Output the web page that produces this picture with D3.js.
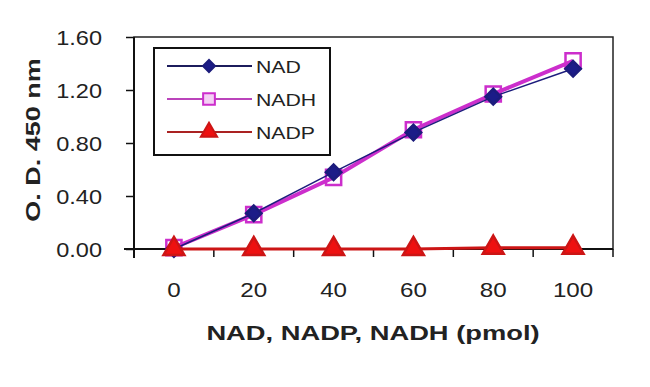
<!DOCTYPE html>
<html>
<head>
<meta charset="utf-8">
<script src="https://cdn.jsdelivr.net/npm/d3@7"></script>
<style>
  body { margin: 0; background: #fff; }
  text { font-family: "Liberation Sans", Arial, sans-serif; }
</style>
</head>
<body>
<script>
// data
var amounts = ["0", "20", "40", "60", "80", "100"];
var nad  = [0.00, 0.27, 0.58, 0.88, 1.15, 1.36];
var nadh = [0.01, 0.26, 0.54, 0.90, 1.17, 1.42];
var nadp = [0.00, 0.00, 0.00, 0.00, 0.01, 0.01];
var yTicks = [0, 0.4, 0.8, 1.2, 1.6];

var W = 650, H = 387;
var plotL = 134, plotR = 613, plotT = 37, plotB = 249;

var svg = d3.select("body")
            .append("svg")
            .attr("width", W)
            .attr("height", H)
            .style("background-color", "white");

// the scan is wider than it is tall, so the text is stretched a bit
function stretch(sel, k) {
  sel.each(function() {
    var w = this.getComputedTextLength();
    d3.select(this).attr("textLength", w * k).attr("lengthAdjust", "spacingAndGlyphs");
  });
}

var x = d3.scaleBand().domain(amounts).range([plotL, plotR]);
var y = d3.scaleLinear().domain([0, 1.6]).range([plotB, plotT]);

// plot box
svg.append("rect")
    .attr("x", plotL).attr("y", plotT)
    .attr("width", plotR - plotL).attr("height", plotB - plotT)
    .attr("fill", "none").attr("stroke", "#222").attr("stroke-width", 1.5);

// y axis
var yAxis = svg.append("g")
    .attr("transform", "translate(" + plotL + ",0)")
    .call(d3.axisLeft(y).tickValues(yTicks).tickFormat(d3.format(".2f")).tickSize(8).tickPadding(24));
yAxis.select(".domain").attr("stroke", "#111").attr("stroke-width", 2).attr("d", "M0," + plotT + "V" + (plotB + 9));
yAxis.selectAll(".tick line").attr("stroke", "#111").attr("stroke-width", 1.5);
yAxis.selectAll("text")
    .attr("font-size", 21).attr("fill", "#222").attr("dy", "0.36em")
    .style("font-family", "'Liberation Sans', Arial, sans-serif")
    .call(stretch, 1.12);

// x axis : ticks between categories, like a spreadsheet chart
var xg = svg.append("g");
xg.append("line")
    .attr("x1", plotL - 10).attr("x2", plotR)
    .attr("y1", plotB).attr("y2", plotB)
    .attr("stroke", "#111").attr("stroke-width", 2);
xg.selectAll(".xt")
    .data(amounts)
    .enter()
    .append("line")
    .attr("x1", d => x(d) + x.bandwidth())
    .attr("x2", d => x(d) + x.bandwidth())
    .attr("y1", plotB)
    .attr("y2", plotB + 8)
    .attr("stroke", "#111").attr("stroke-width", 1.5);
xg.selectAll(".xl")
    .data(amounts)
    .enter()
    .append("text")
    .attr("x", d => x(d) + x.bandwidth() / 2)
    .attr("y", 297)
    .attr("text-anchor", "middle")
    .attr("font-size", 21)
    .attr("fill", "#222")
    .text(d => d)
    .call(stretch, 1.15);

// titles
svg.append("text")
    .attr("x", 373).attr("y", 340)
    .attr("text-anchor", "middle")
    .attr("font-size", 21).attr("font-weight", "bold").attr("fill", "#222")
    .text("NAD, NADP, NADH (pmol)")
    .call(stretch, 1.3);
svg.append("text")
    .attr("transform", "translate(40,140) rotate(-90)")
    .attr("text-anchor", "middle")
    .attr("font-size", 20).attr("font-weight", "bold").attr("fill", "#222")
    .text("O. D. 450 nm")
    .call(stretch, 1.35);

var cx = (d, i) => x(amounts[i]) + x.bandwidth() / 2;
var line = d3.line().x(cx).y(d => y(d));

// diamond = square turned 45 degrees (d3's diamond is too narrow)
var series = [
  { name: "NADH", values: nadh, color: "#cc2ecc", width: 4, shape: d3.symbolSquare, size: 230, rot: 0, fill: "none" },
  { name: "NAD",  values: nad,  color: "#1c1c7c", width: 1.5, shape: d3.symbolSquare, size: 120, rot: 45, fill: "#1c1c88" },
  { name: "NADP", values: nadp, color: "#cc1515", width: 3, shape: d3.symbolTriangle, size: 190, rot: 0, fill: "#ee1111" }
];

series.forEach(function(s) {
  var g = svg.append("g");
  g.append("path")
      .attr("d", line(s.values))
      .attr("fill", "none")
      .attr("stroke", s.color)
      .attr("stroke-width", s.width);
  g.selectAll("path.pt")
      .data(s.values)
      .enter()
      .append("path")
      .attr("class", "pt")
      .attr("transform", (d, i) => "translate(" + cx(d, i) + "," + y(d) + ") rotate(" + s.rot + ")")
      .attr("d", d3.symbol().type(s.shape).size(s.size))
      .attr("fill", s.fill)
      .attr("stroke", s.color)
      .attr("stroke-width", 2.5);
});

// legend
var lg = svg.append("g");
lg.append("rect")
    .attr("x", 154).attr("y", 48)
    .attr("width", 176).attr("height", 107)
    .attr("fill", "white").attr("stroke", "#111").attr("stroke-width", 2);

var order = [series[1], series[0], series[2]];
var legendFill = { NAD: "#1c1c88", NADH: "#f4d0f4", NADP: "#ee1111" };
var legendLine = { NAD: "#1c1c5c", NADH: "#bb44bb", NADP: "#aa2222" };
order.forEach(function(s, i) {
  var ly = 66 + i * 33;
  lg.append("line")
      .attr("x1", 167).attr("x2", 252)
      .attr("y1", ly).attr("y2", ly)
      .attr("stroke", legendLine[s.name]).attr("stroke-width", 2);
  lg.append("path")
      .attr("transform", "translate(209," + ly + ") rotate(" + s.rot + ")")
      .attr("d", d3.symbol().type(s.shape).size(s.size * 0.6))
      .attr("fill", legendFill[s.name])
      .attr("stroke", s.color).attr("stroke-width", 2);
  lg.append("text")
      .attr("x", 256).attr("y", ly + 7)
      .attr("font-size", 17).attr("fill", "#222")
      .text(s.name)
      .call(stretch, 1.25);
});
</script>
</body>
</html>
